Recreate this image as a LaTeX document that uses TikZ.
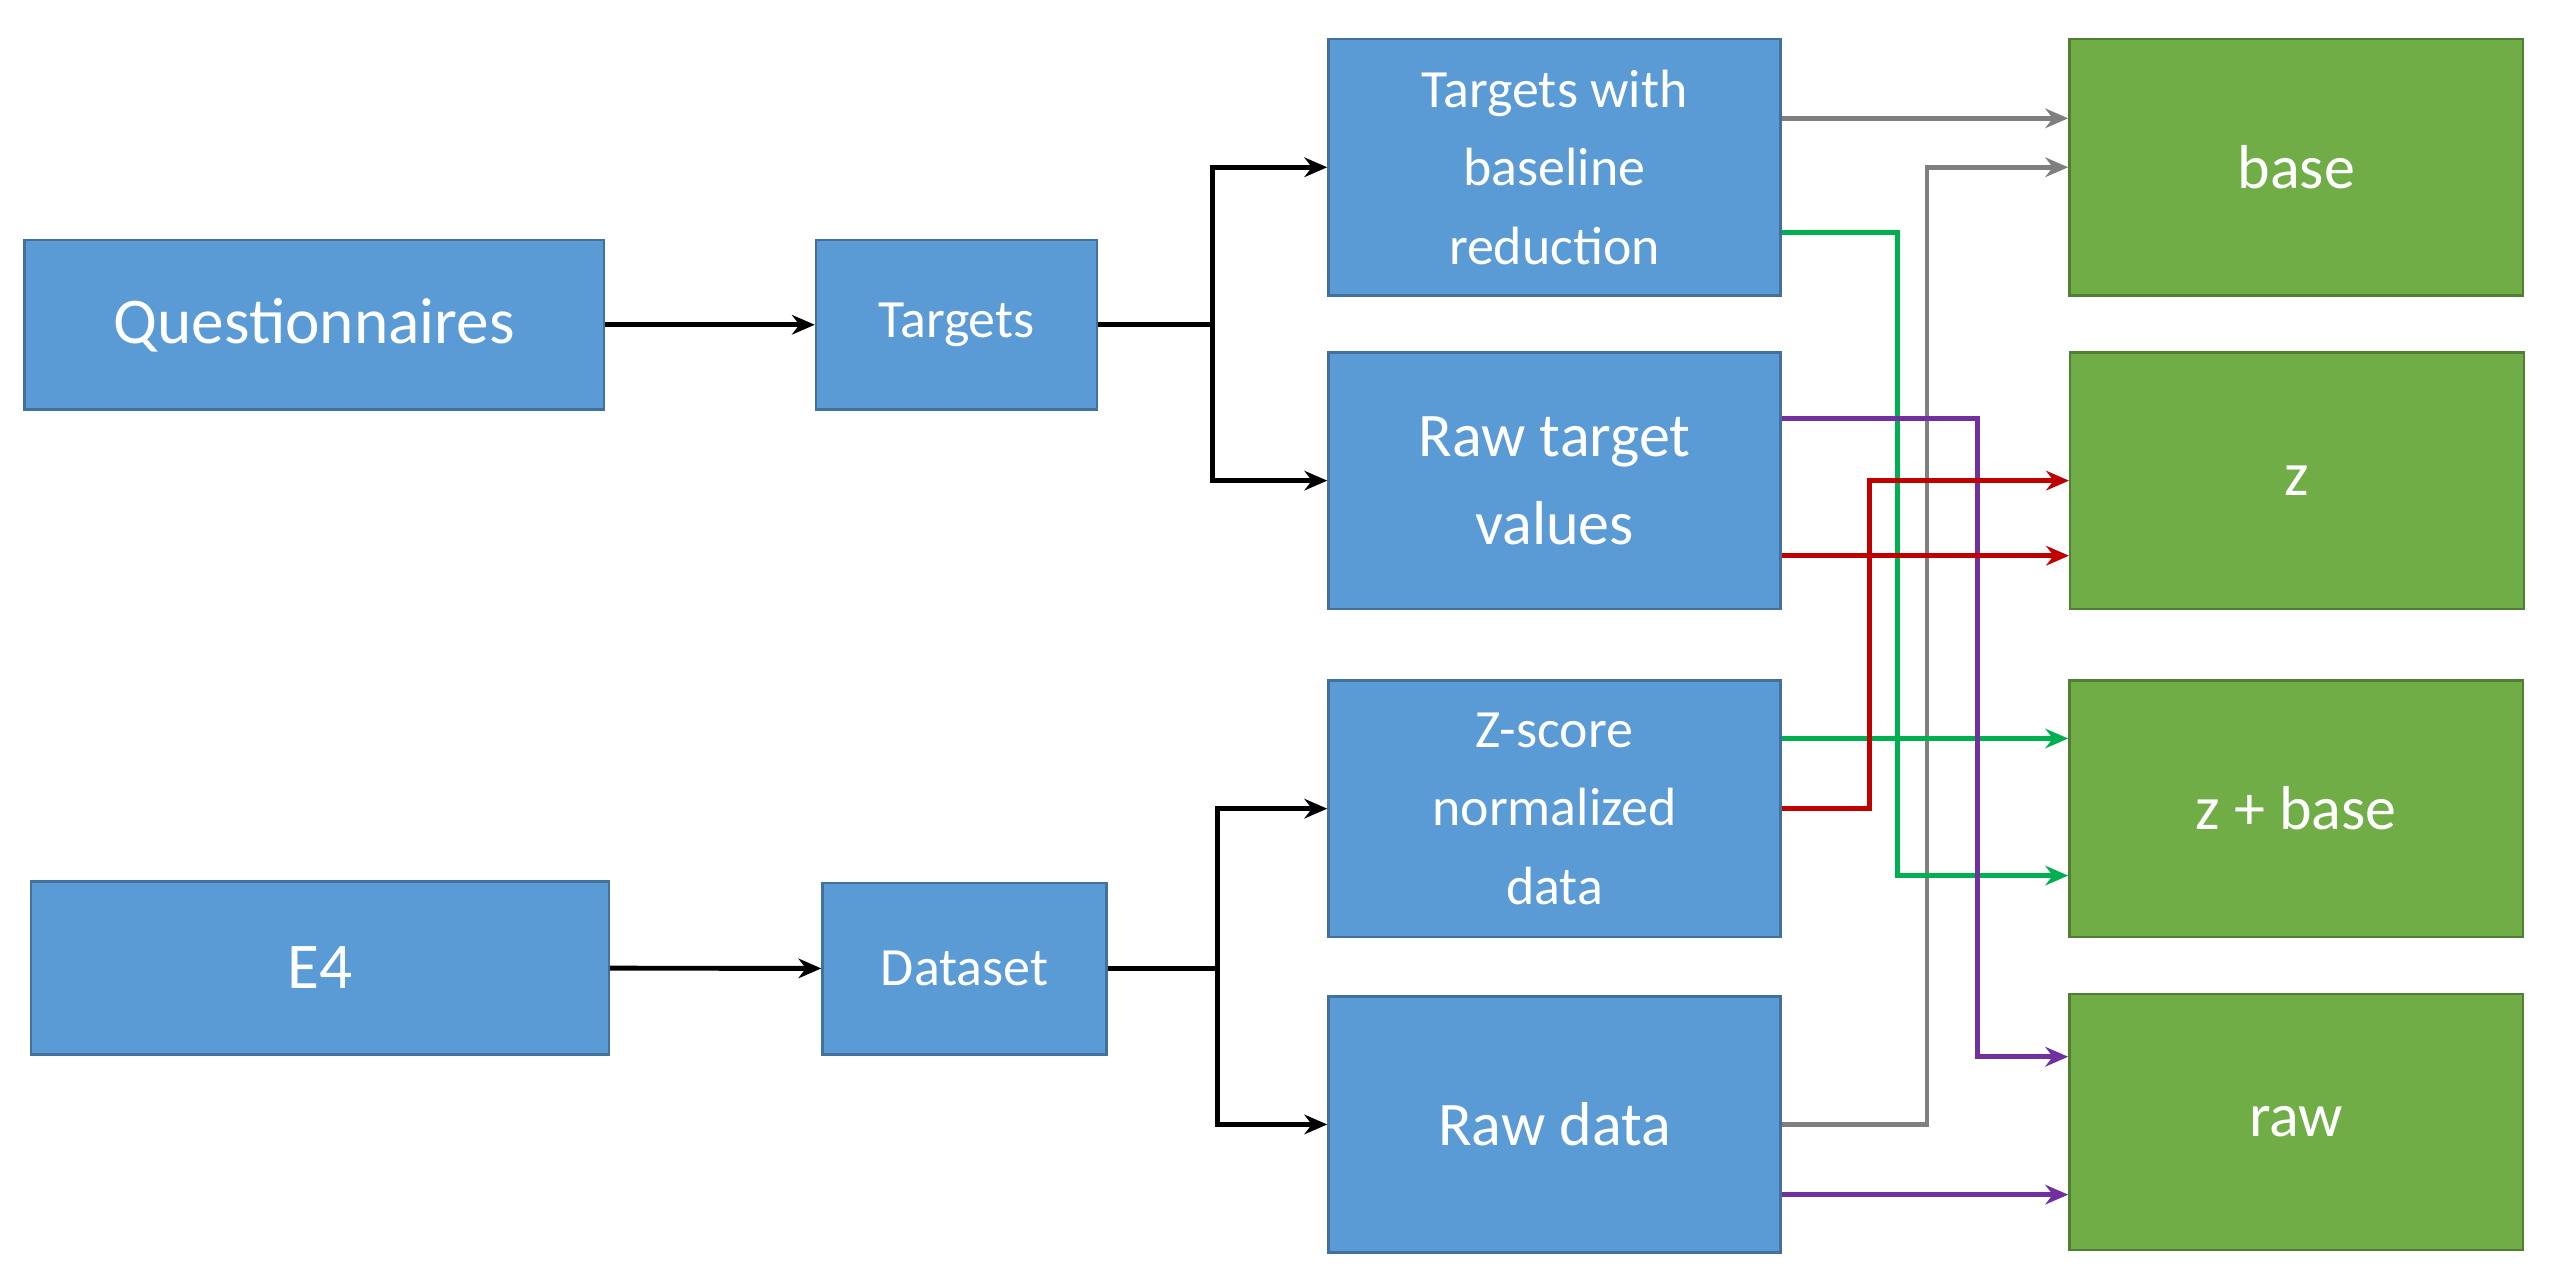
\documentclass[tikz,border=0pt]{standalone}
\usepackage{fontspec}
\setmainfont{Carlito}
\usetikzlibrary{arrows.meta}
\definecolor{boxBlue}{HTML}{5B9BD5}
\definecolor{boxBlueD}{HTML}{41719C}
\definecolor{boxGreen}{HTML}{70AD47}
\definecolor{boxGreenD}{HTML}{507E32}
\definecolor{lGray}{HTML}{7F7F7F}
\definecolor{lGreen}{HTML}{00B050}
\definecolor{lPurple}{HTML}{7030A0}
\definecolor{lRed}{HTML}{C00000}
\begin{document}
\begin{tikzpicture}[x=1pt, y=-1pt,
	src/.style={fill=boxBlue, draw=boxBlueD, line width=1.5pt, text=white, align=center, inner sep=0pt},
	res/.style={fill=boxGreen, draw=boxGreenD, line width=1.5pt, text=white, align=center, inner sep=0pt,
		minimum width=278pt, minimum height=157pt, font=\fontsize{38}{48}\selectfont},
	mid/.style={src, minimum width=277pt, minimum height=157pt},
	arrow/.style={line width=3pt, -{Stealth[length=14pt,width=12pt]}}
	]
	\useasboundingbox (0,0) rectangle (1568,789);
	
	% inputs
	\node[src, minimum width=355pt, minimum height=104pt, font=\fontsize{40}{48}\selectfont] (quest) at (192.5,199) {Questionnaires};
	\node[src, minimum width=172pt, minimum height=104pt, font=\fontsize{33}{48}\selectfont] (targets) at (586,199) {Targets};
	\node[src, minimum width=354pt, minimum height=106pt, font=\fontsize{40}{48}\selectfont] (efour) at (196,593) {E4};
	\node[src, minimum width=174pt, minimum height=105pt, font=\fontsize{33}{48}\selectfont] (dataset) at (591,593.5) {Dataset};
	
	% preprocessing
	\node[mid, font=\fontsize{33}{48}\selectfont] (twb) at (952.5,102.5) {Targets with\\baseline\\reduction};
	\node[mid, font=\fontsize{38}{54}\selectfont] (rtv) at (952.5,294.5) {Raw target\\values};
	\node[mid, font=\fontsize{33}{48}\selectfont] (zsc) at (952.5,495.5) {Z-score\\normalized\\data};
	\node[mid, font=\fontsize{38}{54}\selectfont] (rawd) at (952.5,689) {Raw data};
	
	% results
	\node[res] (base) at (1407,102.5) {base};
	\node[res] (zz) at (1407.5,294.5) {z};
	\node[res] (zbase) at (1407,495.5) {z + base};
	\node[res] (raw) at (1407,687.5) {raw};
	
	\draw[arrow] (quest) -- (targets);
	\draw[arrow] (efour) -- (dataset);
	\draw[arrow] (targets.east) -- ++(70,0) |- (twb.west);
	\draw[arrow] (targets.east) -- ++(70,0) |- (rtv.west);
	\draw[arrow] (dataset.east) -- ++(67,0) |- (zsc.west);
	\draw[arrow] (dataset.east) -- ++(67,0) |- (rawd.west);
	
	\draw[arrow, lGray] ([yshift=30pt]twb.east) -- ([yshift=30pt]base.west);
	\draw[arrow, lGray] (rawd.east) -- ++(89,0) |- (base.west);
	\draw[arrow, lGreen] ([yshift=-40pt]twb.east) -- ++(71,0) |- ([yshift=-41pt]zbase.west);
	\draw[arrow, lGreen] ([yshift=43pt]zsc.east) -- ([yshift=43pt]zbase.west);
	\draw[arrow, lPurple] ([yshift=38pt]rtv.east) -- ++(120,0) |- ([yshift=40pt]raw.west);
	\draw[arrow, lPurple] ([yshift=-43pt]rawd.east) -- ([yshift=-44.5pt]raw.west);
	\draw[arrow, lRed] ([yshift=-46pt]rtv.east) -- ([yshift=-46pt]zz.west);
	\draw[arrow, lRed] (zsc.east) -- ++(54,0) |- (zz.west);
\end{tikzpicture}
\end{document}
